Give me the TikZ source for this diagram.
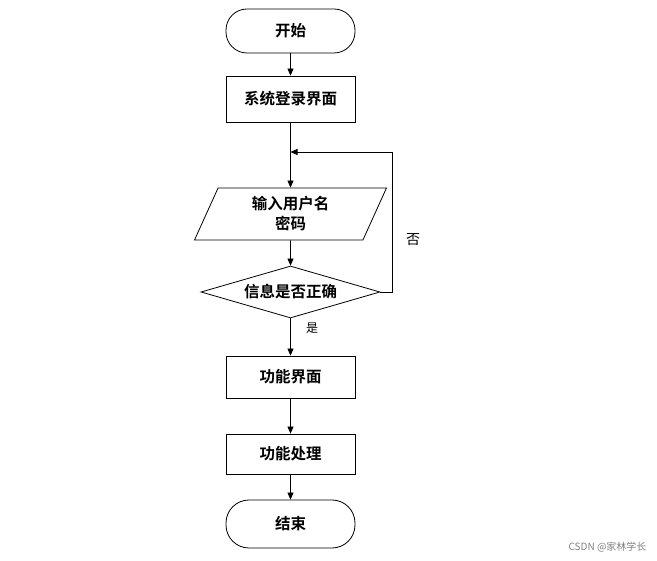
\documentclass[tikz,border=0pt]{standalone}
\usepackage{fontspec}
\newfontfamily\cjk{Noto Sans CJK SC}
\newfontfamily\cjkb{Noto Sans CJK SC Bold}
\usetikzlibrary{shapes.geometric,arrows.meta}
\begin{document}
\begin{tikzpicture}[x=1pt,y=-1pt,
  base/.style={draw,line width=0.8pt,font=\cjkb\fontsize{15.5}{20}\selectfont,align=center,inner sep=0pt},
  term/.style={base,rounded corners=21pt,minimum width=129pt,minimum height=44pt},
  box/.style={base,minimum width=129pt,minimum height=46pt},
  io/.style={base,trapezium,trapezium left angle=70,trapezium right angle=110,minimum width=150pt,minimum height=52pt,trapezium stretches=true},
  dec/.style={base,diamond,aspect=3.5,minimum width=179pt,minimum height=52pt},
  arr/.style={-{Triangle[length=7pt,width=6pt]},line width=0.8pt}]
\useasboundingbox (0,0) rectangle (657,561);
\node[term] (s) at (290.5,31) {开始};
\node[box] (l) at (290.5,99) {系统登录界面};
\node[io,minimum width=192pt] (i) at (290.5,214) {输入用户名\\密码};
\node[dec] (d) at (290.5,292) {信息是否正确};
\node[box,minimum height=42pt] (f) at (290.5,377) {功能界面};
\node[box,minimum height=40pt] (p) at (290.5,454) {功能处理};
\node[term,minimum height=48pt,rounded corners=23pt] (e) at (290.5,524) {结束};
\coordinate (m) at (290.5,152);
\coordinate (c1) at (392,292);
\coordinate (c2) at (392,152);
\draw[arr] (s) -- (l);
\draw[line width=0.8pt] (l) -- (m);
\draw[arr] (m) -- (i);
\draw[arr] (i) -- (d);
\draw[arr] (d) -- (f);
\draw[arr] (f) -- (p);
\draw[arr] (p) -- (e);
\draw[arr] (d.east) -- (c1) -- (c2) -- (m);
\node[font=\cjk\fontsize{14}{16}\selectfont] (no) at (413,240) {否};
\node[font=\cjk\fontsize{12}{14}\selectfont] (yes) at (312,328) {是};
\node[font=\cjk\fontsize{10}{12}\selectfont,text=gray,anchor=east] (wm) at (650,547) {CSDN @家林学长};
\end{tikzpicture}
\end{document}
